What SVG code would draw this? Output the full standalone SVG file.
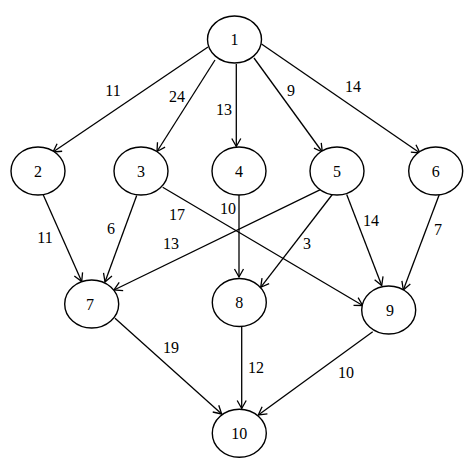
<svg xmlns="http://www.w3.org/2000/svg" width="474" height="474" viewBox="0 0 474 474">
<style>
.n ellipse{fill:#fff;stroke:#000;stroke-width:1.4}
text{font-family:'Liberation Serif','DejaVu Serif',serif;font-size:16px;fill:#000;text-anchor:middle}
#edges line{stroke:#000;stroke-width:1.3;marker-end:url(#a)}
</style>
<defs>
<marker id="a" viewBox="-10 -6 12 12" refX="0" refY="0" markerWidth="12" markerHeight="12" markerUnits="userSpaceOnUse" orient="auto">
<path d="M-8,-4.5 L0,0 L-8,4.5" fill="none" stroke="#000" stroke-width="1.3"/>
</marker>
</defs>
<rect width="474" height="474" fill="#fff"/>
<g id="edges">
<line x1="208" y1="47" x2="53" y2="152"/>
<line x1="215" y1="60" x2="157" y2="151.5"/>
<line x1="236.3" y1="64" x2="236.3" y2="146.5"/>
<line x1="254" y1="58" x2="322.3" y2="152"/>
<line x1="261.5" y1="44" x2="420" y2="153"/>
<line x1="43.3" y1="195" x2="81.7" y2="281.5"/>
<line x1="136.7" y1="195.5" x2="105" y2="282"/>
<line x1="162.7" y1="187.3" x2="362.7" y2="305.5"/>
<line x1="239" y1="195" x2="239" y2="277"/>
<line x1="325" y1="187.3" x2="114" y2="290"/>
<line x1="332.3" y1="194.5" x2="260.7" y2="287.3"/>
<line x1="346.7" y1="194.5" x2="381.7" y2="285.5"/>
<line x1="439.3" y1="194.5" x2="403.3" y2="290"/>
<line x1="115" y1="318.3" x2="221.7" y2="414"/>
<line x1="241.7" y1="326.5" x2="241.7" y2="408.5"/>
<line x1="372.7" y1="331.7" x2="258.3" y2="415"/>
</g>
<g id="edge-labels" font-family="Liberation Serif, serif">
<text x="113" y="96">11</text>
<text x="177" y="102">24</text>
<text x="224" y="115">13</text>
<text x="291" y="96">9</text>
<text x="353" y="92">14</text>
<text x="45" y="243">11</text>
<text x="111" y="234">6</text>
<text x="177" y="220">17</text>
<text x="228" y="214">10</text>
<text x="371" y="226">14</text>
<text x="438" y="235">7</text>
<text x="171" y="249">13</text>
<text x="307" y="249">3</text>
<text x="171" y="353">19</text>
<text x="256" y="373">12</text>
<text x="346" y="378">10</text>
</g>
<g id="n1" class="n"><ellipse cx="234.5" cy="39.5" rx="27" ry="23.5"/><text x="234.5" y="45">1</text></g>
<g id="n2" class="n"><ellipse cx="38" cy="171" rx="27" ry="24"/><text x="38" y="176.5">2</text></g>
<g id="n3" class="n"><ellipse cx="141" cy="171" rx="27" ry="24"/><text x="141" y="176.5">3</text></g>
<g id="n4" class="n"><ellipse cx="239" cy="171" rx="27" ry="24"/><text x="239" y="176.5">4</text></g>
<g id="n5" class="n"><ellipse cx="337" cy="171" rx="27" ry="24"/><text x="337" y="176.5">5</text></g>
<g id="n6" class="n"><ellipse cx="435.7" cy="171" rx="27" ry="24"/><text x="435.7" y="176.5">6</text></g>
<g id="n7" class="n"><ellipse cx="91.7" cy="304" rx="27" ry="24"/><text x="90" y="309.5">7</text></g>
<g id="n8" class="n"><ellipse cx="239.3" cy="302.5" rx="27" ry="24"/><text x="239.3" y="308">8</text></g>
<g id="n9" class="n"><ellipse cx="388.7" cy="310" rx="27" ry="24"/><text x="390" y="316">9</text></g>
<g id="n10" class="n"><ellipse cx="239.3" cy="433.3" rx="27" ry="24"/><text x="239.3" y="439">10</text></g>
</svg>
